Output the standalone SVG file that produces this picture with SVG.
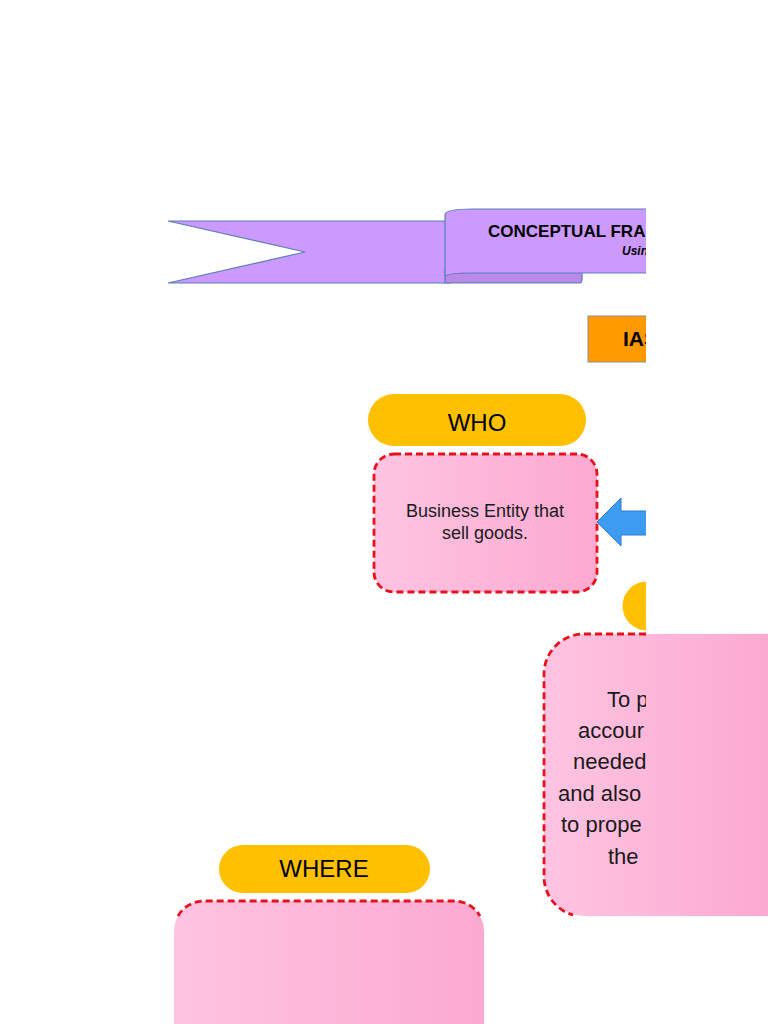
<svg xmlns="http://www.w3.org/2000/svg" width="768" height="1024" viewBox="0 0 768 1024">
  <defs>
    <linearGradient id="pink" x1="0" y1="0" x2="1" y2="0">
      <stop offset="0" stop-color="#FEC4E1"/>
      <stop offset="1" stop-color="#FCA9D1"/>
    </linearGradient>
    <clipPath id="clipR">
      <rect x="0" y="0" width="646" height="1024"/>
    </clipPath>
    <style>
      .pill { fill: #FFC000; }
      .box { fill: url(#pink); }
      .dash { fill: none; stroke: #E8101A; stroke-width: 2.8; stroke-dasharray: 7 4; }
      .lbl { font-family: "Liberation Sans", Arial, sans-serif; font-size: 24px; fill: #000; text-anchor: middle; }
      .body { font-family: "Liberation Sans", Arial, sans-serif; fill: #1a1a1a; }
      .rib { fill: #CC99FF; stroke: #5B7FB8; stroke-width: 1.2; }
    </style>
  </defs>
  <rect width="768" height="1024" fill="#FFFFFF"/>

  <g id="title-ribbon" clip-path="url(#clipR)">
    <path class="rib" d="M168,221 L450,221 L450,283 L168,283 L305,252 Z"/>
    <path d="M445,270 L580,270 A2,6 0 0 1 580,283 L445,283 Z" fill="#B98AE8" stroke="#5B7FB8" stroke-width="1.2"/>
    <path class="rib" d="M445,215 Q445,209 472,209 L700,209 L700,273 L472,273 Q445,273 445,277 Z"/>
    <text x="488" y="237" font-family="'Liberation Sans', Arial, sans-serif" font-size="17" font-weight="bold" fill="#000">CONCEPTUAL FRA</text>
    <text x="622" y="255" font-family="'Liberation Sans', Arial, sans-serif" font-size="12" font-weight="bold" font-style="italic" fill="#000">Usin</text>
  </g>

  <g id="ias" clip-path="url(#clipR)">
    <rect x="588" y="316" width="80" height="46" fill="#FF9900" stroke="#8E8E8E" stroke-width="1"/>
    <text x="623" y="346" font-family="'Liberation Sans', Arial, sans-serif" font-size="21" font-weight="bold" fill="#000">IAS</text>
  </g>

  <g id="who-label">
    <rect class="pill" x="368" y="394" width="218" height="52" rx="26"/>
    <text class="lbl" x="477" y="431" font-size="25.5">WHO</text>
  </g>

  <g id="who-box">
    <rect class="box" x="374" y="454" width="223" height="138" rx="20"/>
    <rect class="dash" x="374" y="454" width="223" height="138" rx="20"/>
    <text class="body" font-size="18" text-anchor="middle" x="485" y="517">Business Entity that</text>
    <text class="body" font-size="18" text-anchor="middle" x="485" y="539">sell goods.</text>
  </g>

  <g id="connectors" clip-path="url(#clipR)">
    <path d="M597,522 L621,498 L621,511 L700,511 L700,535 L621,535 L621,546 Z" fill="#3D9BF2" stroke="#2C7BD0" stroke-width="1"/>
  </g>

  <g id="why-label" clip-path="url(#clipR)">
    <circle class="pill" cx="647" cy="606" r="24.5"/>
  </g>

  <g id="why-box">
    <path class="box" d="M584,634 L768,634 L768,916 L584,916 A40,40 0 0 1 544,876 L544,674 A40,40 0 0 1 584,634 Z"/>
    <path class="dash" d="M646,634 L584,634 A40,40 0 0 0 544,674 L544,876 A40,40 0 0 0 573,915"/>
    <g clip-path="url(#clipR)" class="body" font-size="22">
      <text x="607" y="707">To p</text>
      <text x="578" y="738">accour</text>
      <text x="573" y="769">needed</text>
      <text x="558" y="801">and also</text>
      <text x="561" y="832">to prope</text>
      <text x="608" y="864">the</text>
    </g>
  </g>

  <g id="where-label">
    <rect class="pill" x="219" y="845" width="211" height="48" rx="24"/>
    <text class="lbl" x="324" y="877">WHERE</text>
  </g>

  <g id="where-box">
    <rect class="box" x="174" y="901" width="310" height="200" rx="30"/>
    <path class="dash" d="M178,916 A30,30 0 0 1 204,901 L454,901 A30,30 0 0 1 480,916"/>
  </g>
</svg>
